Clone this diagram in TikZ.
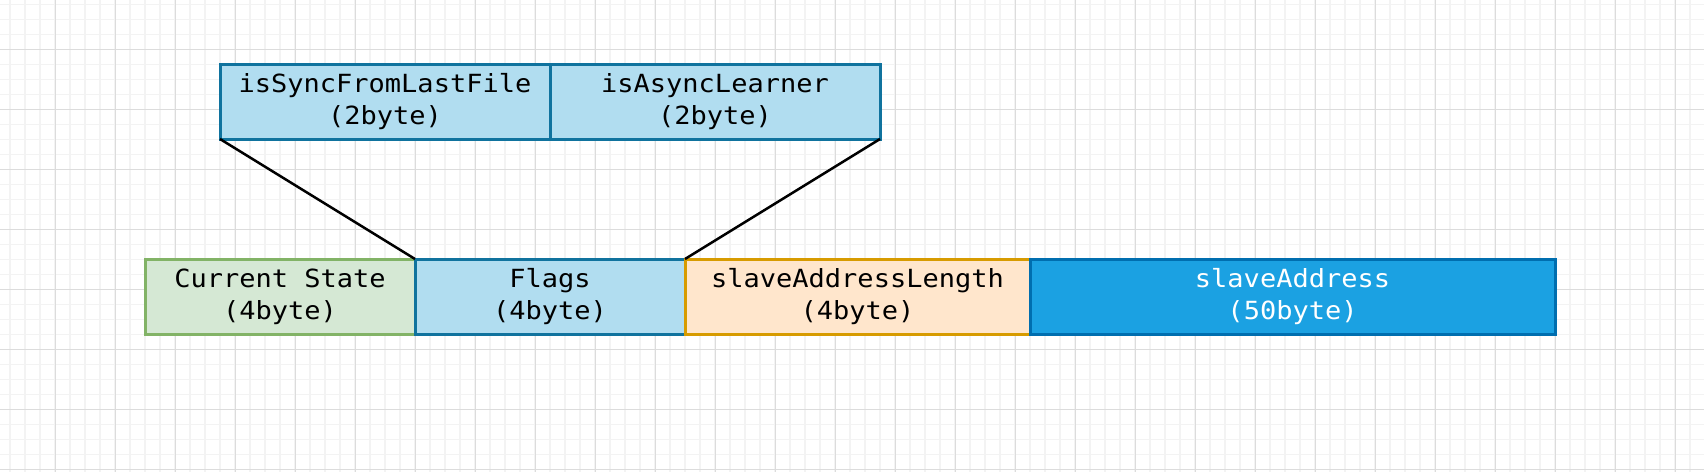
\documentclass[tikz,border=0pt]{standalone}
\usepackage{fontspec}
\newfontfamily\codefont[FakeStretch=1.08]{DejaVu Sans Mono}
\definecolor{minorgrid}{HTML}{F3F3F3}
\definecolor{majorgrid}{HTML}{DCDCDC}
\definecolor{blueFill}{HTML}{B1DDF0}
\definecolor{blueLine}{HTML}{10739E}
\definecolor{greenFill}{HTML}{D5E8D4}
\definecolor{greenLine}{HTML}{82B366}
\definecolor{orangeFill}{HTML}{FFE6CC}
\definecolor{orangeLine}{HTML}{D79B00}
\definecolor{darkFill}{HTML}{1BA1E2}
\definecolor{darkLine}{HTML}{006EAF}
\tikzset{
  minorline/.style={draw=minorgrid, line width=1.6pt},
  majorline/.style={draw=majorgrid, line width=1pt},
  field/.style={rectangle, inner sep=0pt, outer sep=0pt, line width=3pt,
    minimum height=75pt, align=center, text=black,
    font=\codefont\fontsize{25}{32}\selectfont},
  bluefield/.style={field, fill=blueFill, draw=blueLine},
  greenfield/.style={field, fill=greenFill, draw=greenLine},
  orangefield/.style={field, fill=orangeFill, draw=orangeLine},
  darkfield/.style={field, fill=darkFill, draw=darkLine, text=white},
  link/.style={draw=black, line width=2.5pt}
}
\begin{document}
\begin{tikzpicture}[x=1pt,y=-1pt]
\useasboundingbox (0,0) rectangle (1704,472);
\fill[white] (0,0) rectangle (1704,472);
% background grid
\foreach \x in {10,25,...,1700} {\draw[minorline] (\x,0) -- (\x,472);}
\foreach \y in {4.3,19.3,...,472} {\draw[minorline] (0,\y) -- (1704,\y);}
\foreach \x in {55,115,...,1700} {\draw[majorline] (\x,0) -- (\x,472);}
\foreach \y in {49.3,109.3,...,472} {\draw[majorline] (0,\y) -- (1704,\y);}
% top fields
\node[bluefield, minimum width=330pt] (sync) at (385,101.5) {isSyncFromLastFile\\(2byte)};
\node[bluefield, minimum width=330pt] (async) at (715,101.5) {isAsyncLearner\\(2byte)};
% bottom fields
\node[greenfield, minimum width=270pt] (state) at (280,296.5) {Current State\\(4byte)};
\node[bluefield, minimum width=270pt] (flags) at (550,296.5) {Flags\\(4byte)};
\node[orangefield, minimum width=345pt] (len) at (857.5,296.5) {slaveAddressLength\\(4byte)};
\node[darkfield, minimum width=525pt] (addr) at (1292.5,296.5) {slaveAddress\\(50byte)};
% connectors
\draw[link] (sync.south west) -- (flags.north west);
\draw[link] (async.south east) -- (flags.north east);
\end{tikzpicture}
\end{document}
